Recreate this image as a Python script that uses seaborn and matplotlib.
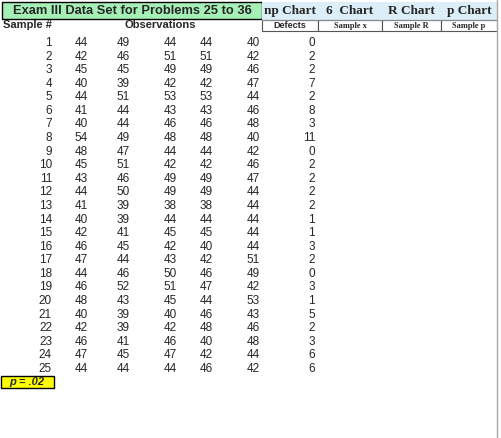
import matplotlib
matplotlib.use("Agg")
import matplotlib.pyplot as plt
import seaborn as sns
from matplotlib.patches import Rectangle

# Spreadsheet data
sample_no = list(range(1, 26))
obs1 = [44, 42, 45, 40, 44, 41, 40, 54, 48, 45, 43, 44, 41, 40, 42, 46, 47, 44, 46, 48, 40, 42, 46, 47, 44]
obs2 = [49, 46, 45, 39, 51, 44, 44, 49, 47, 51, 46, 50, 39, 39, 41, 45, 44, 46, 52, 43, 39, 39, 41, 45, 44]
obs3 = [44, 51, 49, 42, 53, 43, 46, 48, 44, 42, 49, 49, 38, 44, 45, 42, 43, 50, 51, 45, 40, 42, 46, 47, 44]
obs4 = [44, 51, 49, 42, 53, 43, 46, 48, 44, 42, 49, 49, 38, 44, 45, 40, 42, 46, 47, 44, 46, 48, 40, 42, 46]
obs5 = [40, 42, 46, 47, 44, 46, 48, 40, 42, 46, 47, 44, 44, 44, 44, 44, 51, 49, 42, 53, 43, 46, 48, 44, 42]
defects = [0, 2, 2, 7, 2, 8, 3, 11, 0, 2, 2, 2, 2, 1, 1, 3, 2, 0, 3, 1, 5, 2, 3, 6, 6]
chart_titles = ["np Chart", "6  Chart", "R Chart", "p Chart"]
sub_titles = ["Defects", "Sample x", "Sample R", "Sample p"]

sns.set_theme(style="white")
fig = plt.figure(figsize=(5.01, 4.38), dpi=100)
ax = fig.add_axes([0, 0, 1, 1])
ax.set_xlim(0, 501)
ax.set_ylim(438, 0)
ax.axis("off")

# Title band
ax.add_patch(Rectangle((2, 2), 260, 17, facecolor="#a6f0b8", edgecolor="black", lw=1))
ax.text(132, 11, "Exam III Data Set for Problems 25 to 36", ha="center", va="center",
        fontsize=9.3, fontweight="bold", family="Liberation Sans")
ax.add_patch(Rectangle((262, 2), 235, 17, facecolor="#dceef8", edgecolor="none"))
ax.add_patch(Rectangle((262, 19), 235, 12, facecolor="#dceef8", edgecolor="none"))

# Chart header columns
col_edges = [262, 318, 382, 441, 497]
for i, (t, s) in enumerate(zip(chart_titles, sub_titles)):
    cx = (col_edges[i] + col_edges[i + 1]) / 2
    ax.text(cx, 11, t, ha="center", va="center", fontsize=9.5, fontweight="bold",
            family="Liberation Serif")
    ax.add_patch(Rectangle((col_edges[i], 20), col_edges[i + 1] - col_edges[i], 11,
                           facecolor="white", edgecolor="#555555", lw=0.8))
    if i == 0:
        ax.text(cx, 26, s, ha="center", va="center", fontsize=6.5, fontweight="bold",
                family="Liberation Sans")
    else:
        ax.text(cx, 26, s, ha="center", va="center", fontsize=6, fontweight="bold",
                family="Liberation Serif")
ax.plot([262, 497], [19.5, 19.5], color="#888888", lw=0.8)
ax.plot([497.5, 497.5], [0, 438], color="#aaaaaa", lw=1)

ax.text(3, 25, "Sample #", ha="left", va="center", fontsize=8, fontweight="bold",
        family="Liberation Sans")
ax.text(160, 25, "Observations", ha="center", va="center", fontsize=8, fontweight="bold",
        family="Liberation Sans")

# Data rows
right_edges = [52, 88, 130, 177, 213, 260, 315]
columns = [sample_no, obs1, obs2, obs3, obs4, obs5, defects]
for r in range(len(sample_no)):
    y = 43 + r * 13.58
    for xr, col in zip(right_edges, columns):
        ax.text(xr, y, str(col[r]), ha="right", va="center", fontsize=8.5,
                family="Liberation Sans")

# p box
ax.add_patch(Rectangle((1, 376), 53, 12, facecolor="#ffff00", edgecolor="black", lw=1))
ax.text(27, 382, "p = .02", ha="center", va="center", fontsize=8, fontweight="bold",
        style="italic", family="Liberation Sans")

fig.savefig("out.png", dpi=100)
